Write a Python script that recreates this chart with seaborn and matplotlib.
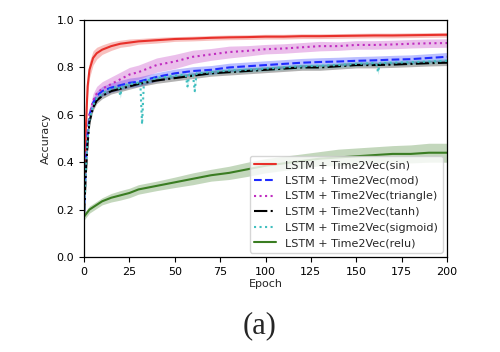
import matplotlib
matplotlib.use("Agg")
import matplotlib.pyplot as plt
import numpy as np
import pandas as pd
import seaborn as sns

EPOCHS = [0, 1, 2, 3, 5, 7, 10, 15, 20, 25, 30, 40, 50, 60, 70, 80, 90, 100,
          110, 120, 130, 140, 150, 160, 170, 180, 190, 200]

SIN = [0.25, 0.54, 0.72, 0.79, 0.84, 0.86, 0.875, 0.89, 0.90, 0.905, 0.91, 0.915,
       0.92, 0.922, 0.925, 0.927, 0.928, 0.93, 0.93, 0.932, 0.932, 0.933, 0.934,
       0.935, 0.935, 0.936, 0.937, 0.938]
MOD = [0.18, 0.40, 0.52, 0.60, 0.65, 0.68, 0.70, 0.715, 0.725, 0.735, 0.74, 0.76,
       0.775, 0.785, 0.79, 0.80, 0.805, 0.81, 0.815, 0.82, 0.823, 0.825, 0.828,
       0.83, 0.833, 0.835, 0.84, 0.845]
TRIANGLE = [0.20, 0.40, 0.52, 0.60, 0.66, 0.69, 0.71, 0.73, 0.75, 0.77, 0.78, 0.81,
            0.825, 0.845, 0.855, 0.865, 0.87, 0.877, 0.88, 0.885, 0.89, 0.89, 0.895,
            0.895, 0.897, 0.90, 0.902, 0.903]
TANH = [0.17, 0.35, 0.48, 0.57, 0.63, 0.66, 0.68, 0.70, 0.71, 0.72, 0.73, 0.745,
        0.755, 0.765, 0.775, 0.78, 0.785, 0.79, 0.795, 0.80, 0.80, 0.805, 0.81,
        0.81, 0.812, 0.815, 0.818, 0.82]
RELU = [0.17, 0.18, 0.19, 0.20, 0.21, 0.22, 0.235, 0.25, 0.26, 0.27, 0.285, 0.30,
        0.315, 0.33, 0.345, 0.355, 0.37, 0.385, 0.395, 0.405, 0.415, 0.42, 0.425,
        0.43, 0.435, 0.435, 0.44, 0.44]

# sigmoid has a few sharp dips, so it gets its own epoch list
SIG_EPOCHS = [0, 1, 2, 3, 5, 7, 10, 15, 19, 20, 21, 25, 30, 31, 32, 33, 35, 40, 50,
              56, 57, 58, 60, 61, 62, 70, 80, 90, 100, 110, 120, 130, 140, 150, 160,
              161, 162, 163, 170, 180, 190, 200]
SIGMOID = [0.18, 0.37, 0.50, 0.58, 0.64, 0.67, 0.69, 0.71, 0.72, 0.68, 0.72, 0.73,
           0.735, 0.74, 0.56, 0.74, 0.745, 0.755, 0.765, 0.77, 0.72, 0.77, 0.772,
           0.70, 0.775, 0.78, 0.787, 0.79, 0.795, 0.80, 0.805, 0.807, 0.81, 0.815,
           0.818, 0.818, 0.78, 0.818, 0.82, 0.822, 0.825, 0.828]

# half width of the shaded band for each series
SIN_SPREAD = [0.02, 0.05, 0.04, 0.035, 0.03, 0.025, 0.02, 0.018, 0.015, 0.015, 0.012,
              0.012, 0.01, 0.01, 0.01, 0.01, 0.01, 0.01, 0.01, 0.01, 0.01, 0.01, 0.01,
              0.01, 0.01, 0.01, 0.01, 0.01]
MOD_SPREAD = [0.02] * 11 + [0.018] * 17
TRIANGLE_SPREAD = [0.02, 0.03, 0.03, 0.03, 0.03, 0.03, 0.03, 0.03, 0.03, 0.03, 0.03,
                   0.03, 0.03, 0.028, 0.025, 0.025, 0.022, 0.02, 0.02, 0.02, 0.02,
                   0.018, 0.018, 0.018, 0.018, 0.018, 0.018, 0.018]
TANH_SPREAD = [0.012] * 28
RELU_SPREAD = [0.015, 0.015, 0.015, 0.015, 0.015, 0.015, 0.015, 0.018, 0.02, 0.02,
               0.02, 0.02, 0.022, 0.025, 0.025, 0.028, 0.03, 0.03, 0.03, 0.03, 0.03,
               0.035, 0.035, 0.035, 0.035, 0.038, 0.04, 0.04]
SIGMOID_SPREAD = 0.01

sns.set_style("ticks", {"axes.edgecolor": "black", "xtick.color": "black",
                        "ytick.color": "black"})
plt.rcParams["font.family"] = ["DejaVu Sans"]

fig = plt.figure(figsize=(5, 3.52), dpi=100)
ax = fig.add_axes([0.168, 0.270, 0.726, 0.673])

series = [
    ("LSTM + Time2Vec(sin)", EPOCHS, SIN, SIN_SPREAD, "#e8302a", "-"),
    ("LSTM + Time2Vec(mod)", EPOCHS, MOD, MOD_SPREAD, "#1f2bff", "--"),
    ("LSTM + Time2Vec(triangle)", EPOCHS, TRIANGLE, TRIANGLE_SPREAD, "#c02cc0", ":"),
    ("LSTM + Time2Vec(tanh)", EPOCHS, TANH, TANH_SPREAD, "black", "-."),
    ("LSTM + Time2Vec(sigmoid)", SIG_EPOCHS, SIGMOID,
     [SIGMOID_SPREAD] * len(SIG_EPOCHS), "#40bfbf", ":"),
    ("LSTM + Time2Vec(relu)", EPOCHS, RELU, RELU_SPREAD, "#3a7d22", "-"),
]

for name, ep, vals, spread, color, ls in series:
    df = pd.DataFrame({"epoch": ep, "acc": vals, "spread": spread})
    ax.fill_between(df["epoch"], df["acc"] - df["spread"], df["acc"] + df["spread"],
                    color=color, alpha=0.3, linewidth=0)
    sns.lineplot(data=df, x="epoch", y="acc", color=color, linestyle=ls,
                 linewidth=1.5, label=name, ax=ax)

ax.set_xlim(0, 200)
ax.set_ylim(0, 1.0)
ax.set_xticks(np.arange(0, 201, 25))
ax.set_yticks(np.arange(0, 1.01, 0.2))
ax.tick_params(labelsize=8, length=3.5, width=0.8)
ax.set_xlabel("Epoch", fontsize=8, labelpad=2)
ax.set_ylabel("Accuracy", fontsize=8)
for s in ax.spines.values():
    s.set_linewidth(0.9)

ax.legend(loc="lower right", fontsize=8, frameon=True, framealpha=0.8,
          borderaxespad=0.4, handlelength=2.0)

fig.text(0.519, 0.074, "(a)", ha="center", va="center", fontsize=22,
         family=["Liberation Serif"])

fig.savefig("out.png", dpi=100)
